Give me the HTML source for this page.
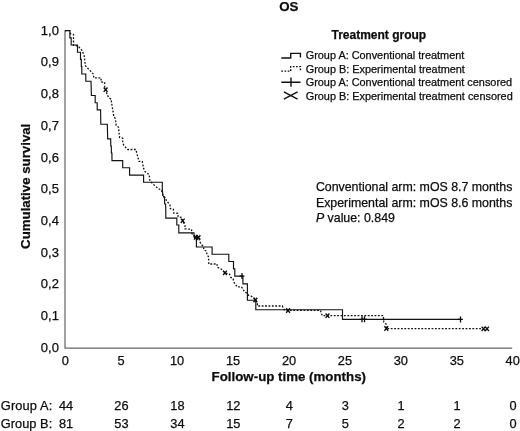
<!DOCTYPE html>
<html><head><meta charset="utf-8"><title>OS</title>
<style>html,body{margin:0;padding:0;background:#fff;width:520px;height:431px;overflow:hidden}</style></head>
<body>
<svg width="520" height="431" viewBox="0 0 520 431" style="display:block;position:absolute;left:0;top:0">
<rect width="520" height="431" fill="#fff"/>
<path d="M65,30.349999999999998 V348 H512.2" fill="none" stroke="#666" stroke-width="1.25"/>
<g font-family="'Liberation Sans',Arial,sans-serif" fill="#0d0d0d" stroke="#0d0d0d" stroke-width="0.25">
<text x="288.9" y="10.6" font-size="13.3" font-weight="bold" text-anchor="middle">OS</text>
<text x="58.9" y="352" font-size="13" text-anchor="end">0,0</text>
<text x="58.9" y="320" font-size="13" text-anchor="end">0,1</text>
<text x="58.9" y="288" font-size="13" text-anchor="end">0,2</text>
<text x="58.9" y="257" font-size="13" text-anchor="end">0,3</text>
<text x="58.9" y="225" font-size="13" text-anchor="end">0,4</text>
<text x="58.9" y="193" font-size="13" text-anchor="end">0,5</text>
<text x="58.9" y="162" font-size="13" text-anchor="end">0,6</text>
<text x="58.9" y="130" font-size="13" text-anchor="end">0,7</text>
<text x="58.9" y="98" font-size="13" text-anchor="end">0,8</text>
<text x="58.9" y="66" font-size="13" text-anchor="end">0,9</text>
<text x="58.9" y="35" font-size="13" text-anchor="end">1,0</text>
<text x="65.2" y="364.8" font-size="12.8" text-anchor="middle">0</text>
<text x="121.1" y="364.8" font-size="12.8" text-anchor="middle">5</text>
<text x="177.1" y="364.8" font-size="12.8" text-anchor="middle">10</text>
<text x="233.0" y="364.8" font-size="12.8" text-anchor="middle">15</text>
<text x="289.0" y="364.8" font-size="12.8" text-anchor="middle">20</text>
<text x="344.9" y="364.8" font-size="12.8" text-anchor="middle">25</text>
<text x="400.8" y="364.8" font-size="12.8" text-anchor="middle">30</text>
<text x="456.8" y="364.8" font-size="12.8" text-anchor="middle">35</text>
<text x="512.7" y="364.8" font-size="12.8" text-anchor="middle">40</text>
<text transform="translate(30,186.3) rotate(-90)" font-size="13.25" font-weight="bold" text-anchor="middle">Cumulative survival</text>
<text x="288.8" y="381" font-size="13.3" font-weight="bold" text-anchor="middle">Follow-up time (months)</text>
<text x="0.8" y="410" font-size="12.8" textLength="51.4">Group A:</text>
<text x="0.8" y="427.7" font-size="12.8" textLength="51.4">Group B:</text>
<text x="66.0" y="410" font-size="12.8" text-anchor="middle">44</text>
<text x="66.0" y="427.7" font-size="12.8" text-anchor="middle">81</text>
<text x="121.4" y="410" font-size="12.8" text-anchor="middle">26</text>
<text x="121.4" y="427.7" font-size="12.8" text-anchor="middle">53</text>
<text x="177.4" y="410" font-size="12.8" text-anchor="middle">18</text>
<text x="177.4" y="427.7" font-size="12.8" text-anchor="middle">34</text>
<text x="233.3" y="410" font-size="12.8" text-anchor="middle">12</text>
<text x="233.3" y="427.7" font-size="12.8" text-anchor="middle">15</text>
<text x="289.3" y="410" font-size="12.8" text-anchor="middle">4</text>
<text x="289.3" y="427.7" font-size="12.8" text-anchor="middle">7</text>
<text x="345.2" y="410" font-size="12.8" text-anchor="middle">3</text>
<text x="345.2" y="427.7" font-size="12.8" text-anchor="middle">5</text>
<text x="401.1" y="410" font-size="12.8" text-anchor="middle">1</text>
<text x="401.1" y="427.7" font-size="12.8" text-anchor="middle">2</text>
<text x="457.1" y="410" font-size="12.8" text-anchor="middle">1</text>
<text x="457.1" y="427.7" font-size="12.8" text-anchor="middle">2</text>
<text x="513.0" y="410" font-size="12.8" text-anchor="middle">0</text>
<text x="513.0" y="427.7" font-size="12.8" text-anchor="middle">0</text>
<text x="331.5" y="38.5" font-size="12" font-weight="bold">Treatment group</text>
<text x="305.7" y="58.8" font-size="10.9">Group A: Conventional treatment</text>
<text x="305.7" y="72.5" font-size="10.9">Group B: Experimental treatment</text>
<text x="305.7" y="86.1" font-size="10.9">Group A: Conventional treatment censored</text>
<text x="305.7" y="99.8" font-size="10.9">Group B: Experimental treatment censored</text>
<text x="315.9" y="191.3" font-size="12.37">Conventional arm: mOS 8.7 months</text>
<text x="315.9" y="206.7" font-size="12.37">Experimental arm: mOS 8.6 months</text>
<text x="315.9" y="222" font-size="12.37"><tspan font-style="italic">P</tspan> value: 0.849</text>
</g>
<path d="M281.3,58 H290.7 V53.4 H300.4 V57.6" fill="none" stroke="#111" stroke-width="1.4"/>
<path d="M281.3,71.1 H290.7 V66.6 H300.4 V70.8" fill="none" stroke="#111" stroke-width="1.4" stroke-dasharray="1.7,1.5"/>
<path d="M281.3,82.2 H300.5 M291,77.5 V86.8" fill="none" stroke="#111" stroke-width="1.4"/>
<path d="M283.8,91.8 L297.6,99.1 M283.8,99.1 L297.6,91.8" fill="none" stroke="#111" stroke-width="1.4"/>
<path d="M65.1,30.6 L69.7,30.6 L70.5,33.7 L73.5,34.5 L73.5,45.2 L78.0,46.0 L82.2,50.6 L84.2,56.0 L85.0,62.7 L85.4,65.8 L93.5,74.2 L93.8,77.8 L101.0,77.9 L101.1,82.0 L104.6,82.2 L104.8,87.0 L105.6,89.7 L107.3,95.0 L108.8,97.7 L111.2,99.2 L111.5,102.3 L112.7,109.6 L113.8,116.2 L115.4,118.8 L115.8,122.0 L116.2,125.3 L118.5,127.2 L119.6,137.4 L122.7,138.2 L122.7,142.4 L123.8,145.3 L127.7,149.5 L135.8,149.5 L139.0,161.3 L142.3,161.5 L143.5,168.0 L145.0,171.5 L149.2,174.6 L149.8,180.0 L151.0,182.0 L154.6,185.4 L158.5,188.8 L161.5,190.0 L163.1,195.8 L165.4,197.7 L166.5,200.8 L170.0,205.0 L170.4,208.8 L173.3,209.3 L173.8,213.2 L177.8,213.3 L178.1,216.8 L181.3,217.3 L182.7,220.8 L185.0,225.4 L185.0,228.8 L191.5,229.3 L191.9,233.5 L194.0,236.0 L196.0,237.4 L198.5,237.5 L200.0,241.9 L201.2,244.4 L203.5,246.5 L203.8,249.8 L206.6,251.2 L206.9,254.4 L208.6,257.0 L208.8,264.0 L217.0,264.0 L217.3,267.3 L220.4,268.4 L223.1,270.8 L225.0,272.8 L229.6,274.3 L230.8,277.4 L233.1,278.5 L233.8,282.0 L237.3,287.0 L241.2,286.8 L243.1,289.0 L244.2,291.6 L246.8,293.2 L248.8,295.5 L251.2,296.2 L254.2,298.1 L255.4,300.0 L257.3,303.1 L257.5,306.0 L282.3,306.0 L284.2,309.8 L288.1,310.4 L320.4,310.4 L322.3,315.7 L383.3,315.7 L383.8,322.0 L386.0,324.0 L386.3,328.7 L481.0,328.7" fill="none" stroke="#111" stroke-width="1.3" stroke-dasharray="1.8,1.6"/>
<path d="M65.1,30.6 L69.9,30.6 L69.9,37.8 L71.2,37.8 L71.2,45.0 L77.5,45.0 L77.5,52.2 L80.5,52.2 L80.5,59.4 L81.3,59.4 L81.3,66.6 L81.8,66.6 L81.8,74.0 L85.8,74.0 L85.8,81.2 L91.0,81.2 L91.4,95.5 L95.2,95.5 L95.2,102.7 L97.2,102.7 L97.2,109.9 L100.6,109.9 L100.8,124.2 L107.3,124.2 L107.7,138.8 L110.7,138.8 L110.8,146.0 L111.3,146.0 L111.4,153.0 L111.9,153.0 L112.0,160.6 L122.7,160.6 L122.7,167.7 L129.6,167.7 L129.6,175.1 L143.6,175.1 L143.6,182.2 L162.3,182.2 L162.3,189.4 L162.8,195.4 L164.5,198.1 L164.7,204.0 L165.6,204.0 L165.8,211.0 L165.8,218.1 L176.8,218.1 L176.8,225.0 L178.8,225.0 L178.8,232.8 L194.0,232.8 L194.2,237.4 L196.4,237.6 L196.4,247.0 L212.1,247.0 L212.1,254.2 L228.8,254.2 L228.8,261.5 L233.5,261.5 L233.5,268.8 L234.8,268.8 L234.8,276.1 L242.9,276.1 L242.9,283.8 L247.4,283.8 L247.4,300.2 L255.8,300.2 L255.8,309.7 L342.5,309.7 L342.5,319.3 L460.5,319.3" fill="none" stroke="#111" stroke-width="1.15"/>
<path d="M103.7,87.5 L107.5,91.9 M103.7,91.9 L107.5,87.5" stroke="#0a0a0a" stroke-width="1.35" fill="none"/>
<path d="M180.8,218.6 L184.6,223.0 M180.8,223.0 L184.6,218.6" stroke="#0a0a0a" stroke-width="1.35" fill="none"/>
<path d="M194.0,235.2 L197.8,239.6 M194.0,239.6 L197.8,235.2" stroke="#0a0a0a" stroke-width="1.35" fill="none"/>
<path d="M196.6,235.2 L200.4,239.6 M196.6,239.6 L200.4,235.2" stroke="#0a0a0a" stroke-width="1.35" fill="none"/>
<path d="M223.1,270.6 L226.9,275.0 M223.1,275.0 L226.9,270.6" stroke="#0a0a0a" stroke-width="1.35" fill="none"/>
<path d="M253.5,297.8 L257.3,302.2 M253.5,302.2 L257.3,297.8" stroke="#0a0a0a" stroke-width="1.35" fill="none"/>
<path d="M286.2,308.3 L290.0,312.7 M286.2,312.7 L290.0,308.3" stroke="#0a0a0a" stroke-width="1.35" fill="none"/>
<path d="M325.6,313.5 L329.4,317.9 M325.6,317.9 L329.4,313.5" stroke="#0a0a0a" stroke-width="1.35" fill="none"/>
<path d="M384.4,326.3 L388.2,330.7 M384.4,330.7 L388.2,326.3" stroke="#0a0a0a" stroke-width="1.35" fill="none"/>
<path d="M481.6,326.6 L485.4,331.0 M481.6,331.0 L485.4,326.6" stroke="#0a0a0a" stroke-width="1.35" fill="none"/>
<path d="M485.1,326.6 L488.9,331.0 M485.1,331.0 L488.9,326.6" stroke="#0a0a0a" stroke-width="1.35" fill="none"/>
<path d="M194.1,237.8 H198.9 M196.5,234.8 V240.8" stroke="#0a0a0a" stroke-width="1.3" fill="none"/>
<path d="M239.6,276.1 H244.4 M242.0,273.1 V279.1" stroke="#0a0a0a" stroke-width="1.3" fill="none"/>
<path d="M359.6,319.3 H364.4 M362.0,316.3 V322.3" stroke="#0a0a0a" stroke-width="1.3" fill="none"/>
<path d="M362.1,319.3 H366.9 M364.5,316.3 V322.3" stroke="#0a0a0a" stroke-width="1.3" fill="none"/>
<path d="M458.1,319.4 H462.9 M460.5,316.4 V322.4" stroke="#0a0a0a" stroke-width="1.3" fill="none"/>
</svg>
</body></html>
